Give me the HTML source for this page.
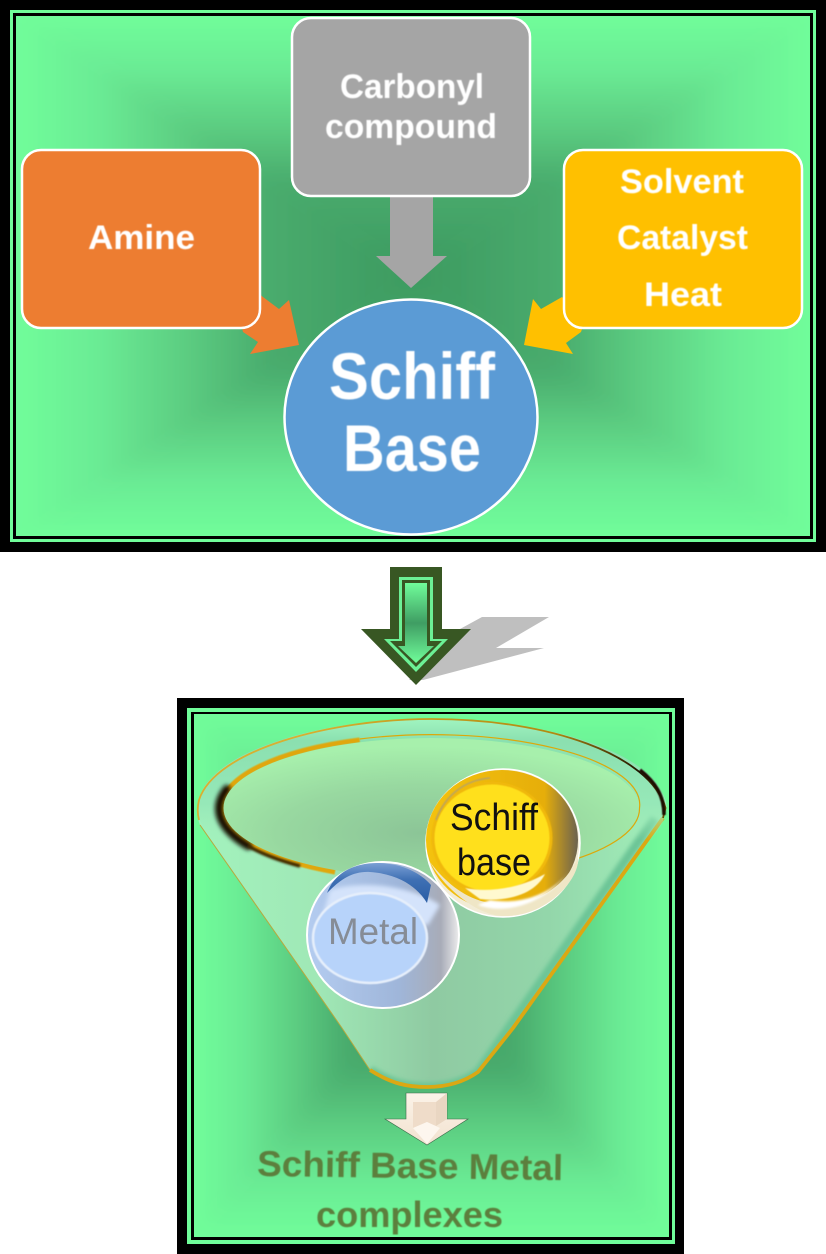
<!DOCTYPE html>
<html><head><meta charset="utf-8">
<style>html,body{margin:0;padding:0;background:#fff}svg{display:block}
text{font-family:"Liberation Sans",sans-serif;text-anchor:start}</style></head>
<body>
<svg xmlns="http://www.w3.org/2000/svg" width="826" height="1254" viewBox="0 0 826 1254">
<defs>
<linearGradient id="t1" gradientUnits="userSpaceOnUse" x1="0" y1="276" x2="0" y2="16"><stop offset="0" stop-color="#3d9a60"/><stop offset=".36" stop-color="#49ab6d"/><stop offset=".56" stop-color="#5bcb80"/><stop offset=".8" stop-color="#6bec95"/><stop offset="1" stop-color="#70fd9a"/></linearGradient>
<linearGradient id="t2" gradientUnits="userSpaceOnUse" x1="0" y1="276" x2="0" y2="536"><stop offset="0" stop-color="#3d9a60"/><stop offset=".36" stop-color="#49ab6d"/><stop offset=".56" stop-color="#5bcb80"/><stop offset=".8" stop-color="#6bec95"/><stop offset="1" stop-color="#70fd9a"/></linearGradient>
<linearGradient id="t3" gradientUnits="userSpaceOnUse" x1="413" y1="0" x2="16" y2="0"><stop offset="0" stop-color="#3d9a60"/><stop offset=".36" stop-color="#49ab6d"/><stop offset=".56" stop-color="#5bcb80"/><stop offset=".8" stop-color="#6bec95"/><stop offset="1" stop-color="#70fd9a"/></linearGradient>
<linearGradient id="t4" gradientUnits="userSpaceOnUse" x1="413" y1="0" x2="810" y2="0"><stop offset="0" stop-color="#3d9a60"/><stop offset=".36" stop-color="#49ab6d"/><stop offset=".56" stop-color="#5bcb80"/><stop offset=".8" stop-color="#6bec95"/><stop offset="1" stop-color="#70fd9a"/></linearGradient>
<linearGradient id="b1" gradientUnits="userSpaceOnUse" x1="0" y1="975" x2="0" y2="714"><stop offset="0" stop-color="#3d9a60"/><stop offset=".36" stop-color="#49ab6d"/><stop offset=".56" stop-color="#5bcb80"/><stop offset=".8" stop-color="#6bec95"/><stop offset="1" stop-color="#70fd9a"/></linearGradient>
<linearGradient id="b2" gradientUnits="userSpaceOnUse" x1="0" y1="975" x2="0" y2="1237"><stop offset="0" stop-color="#3d9a60"/><stop offset=".36" stop-color="#49ab6d"/><stop offset=".56" stop-color="#5bcb80"/><stop offset=".8" stop-color="#6bec95"/><stop offset="1" stop-color="#70fd9a"/></linearGradient>
<linearGradient id="b3" gradientUnits="userSpaceOnUse" x1="431" y1="0" x2="194" y2="0"><stop offset="0" stop-color="#3d9a60"/><stop offset=".36" stop-color="#49ab6d"/><stop offset=".56" stop-color="#5bcb80"/><stop offset=".8" stop-color="#6bec95"/><stop offset="1" stop-color="#70fd9a"/></linearGradient>
<linearGradient id="b4" gradientUnits="userSpaceOnUse" x1="431" y1="0" x2="669" y2="0"><stop offset="0" stop-color="#3d9a60"/><stop offset=".36" stop-color="#49ab6d"/><stop offset=".56" stop-color="#5bcb80"/><stop offset=".8" stop-color="#6bec95"/><stop offset="1" stop-color="#70fd9a"/></linearGradient>
<filter id="bl" filterUnits="userSpaceOnUse" x="-40" y="-40" width="906" height="1334"><feGaussianBlur stdDeviation="9"/></filter>
<filter id="sf" filterUnits="userSpaceOnUse" x="0" y="0" width="826" height="1254"><feGaussianBlur stdDeviation=".5"/></filter>
<filter id="sf1" filterUnits="userSpaceOnUse" x="0" y="0" width="826" height="1254"><feGaussianBlur stdDeviation="1.1"/></filter>
<filter id="sf2" filterUnits="userSpaceOnUse" x="0" y="0" width="826" height="1254"><feGaussianBlur stdDeviation="2"/></filter>
<clipPath id="c1"><rect x="16" y="16" width="794" height="520"/></clipPath>
<clipPath id="c2"><rect x="194" y="714" width="475" height="523"/></clipPath>
<clipPath id="coneclip"><path d="M200,825 L342,1028 L370,1070 C392,1084 408,1087 427,1087 C448,1087 464,1082 478,1072 L513,1028 L663,818 C668,810 668,800 660,790 L203,790 C196,800 196,815 200,825Z"/></clipPath>
<clipPath id="metalclip"><ellipse cx="383" cy="935" rx="75" ry="72"/></clipPath>
<linearGradient id="mid" x1="0" y1="0" x2="0" y2="1"><stop offset="0" stop-color="#70fd9a"/><stop offset=".5" stop-color="#3f9d63"/><stop offset="1" stop-color="#70fd9a"/></linearGradient>
<linearGradient id="cone" gradientUnits="userSpaceOnUse" x1="200" y1="0" x2="665" y2="0"><stop offset="0" stop-color="#a2f2bd"/><stop offset=".25" stop-color="#a0e8b6"/><stop offset=".5" stop-color="#8fcaa2"/><stop offset=".75" stop-color="#93d6aa"/><stop offset="1" stop-color="#a2f0ba"/></linearGradient>
<radialGradient id="inner" cx=".47" cy=".68" r=".62"><stop offset="0" stop-color="#8cc597"/><stop offset=".55" stop-color="#98d8a0"/><stop offset="1" stop-color="#a7f0ac"/></radialGradient>
<linearGradient id="rim" gradientUnits="userSpaceOnUse" x1="0" y1="719" x2="0" y2="840"><stop offset="0" stop-color="#a0f4c0"/><stop offset=".18" stop-color="#8be0b0"/><stop offset=".7" stop-color="#96e8b8"/><stop offset="1" stop-color="#a0ecba" stop-opacity="0"/></linearGradient>
<linearGradient id="goldrim" gradientUnits="userSpaceOnUse" x1="300" y1="0" x2="665" y2="0"><stop offset="0" stop-color="#d8b030"/><stop offset=".7" stop-color="#b08a10"/><stop offset=".93" stop-color="#1f1500"/><stop offset="1" stop-color="#6d5200"/></linearGradient>
<linearGradient id="sy" x1="0" y1="0" x2="1" y2="0"><stop offset="0" stop-color="#f4c20e"/><stop offset=".78" stop-color="#e6ae0a"/><stop offset="1" stop-color="#6b6250"/></linearGradient>
<linearGradient id="mb" x1="0" y1="0" x2="1" y2="0"><stop offset="0" stop-color="#b4ccf0"/><stop offset=".6" stop-color="#9fb6da"/><stop offset=".88" stop-color="#a8acb8"/><stop offset="1" stop-color="#ececec"/></linearGradient>
<linearGradient id="mtop" gradientUnits="userSpaceOnUse" x1="380" y1="863" x2="380" y2="900"><stop offset="0" stop-color="#7a9fd4"/><stop offset=".45" stop-color="#3f70b4"/><stop offset="1" stop-color="#2c5fa6"/></linearGradient>
<linearGradient id="wa" x1="0" y1="0" x2="0" y2="1"><stop offset="0" stop-color="#fbf3e8"/><stop offset="1" stop-color="#f2e2d0"/></linearGradient>
</defs>

<!-- top frame -->
<rect x="0" y="0" width="826" height="552" fill="#000"/>
<rect x="10" y="10" width="806" height="532" fill="#70fd9a"/>
<rect x="13" y="13" width="800" height="526" fill="#000"/>
<rect x="16" y="16" width="794" height="520" fill="#70fd9a"/>
<g clip-path="url(#c1)"><g filter="url(#bl)">
<polygon points="413,276 -10,-10 836,-10" fill="url(#t1)"/>
<polygon points="413,276 -10,562 836,562" fill="url(#t2)"/>
<polygon points="413,276 -10,-10 -10,562" fill="url(#t3)"/>
<polygon points="413,276 836,-10 836,562" fill="url(#t4)"/>
</g></g>

<!-- arrows top -->
<polygon points="390,190 433,190 433,256 447,256 411,288 376,256 390,256" fill="#a5a5a5"/>
<polygon points="255,290 263,297 279,309 289,300 299,345 250,354 258,342 243,332 240,320" fill="#ed7d31"/>
<polygon points="524,345 533,299 541,309 562,297 585,320 581,332 566,343 573,354" fill="#ffc000"/>

<rect x="22" y="150" width="238" height="178" rx="19" fill="#ed7d31" stroke="#fff" stroke-width="2.5"/>
<rect x="292" y="18" width="238" height="178" rx="19" fill="#a5a5a5" stroke="#fff" stroke-width="2.5"/>
<rect x="564" y="150" width="238" height="178" rx="19" fill="#ffc000" stroke="#fff" stroke-width="2.5"/>
<ellipse cx="411" cy="417" rx="126.500" ry="117.500" fill="#5b9bd5" stroke="#fff" stroke-width="2.500"/>

<g fill="#fff" font-weight="bold" filter="url(#sf)">
<text x="340" y="98" font-size="34" textLength="144" lengthAdjust="spacingAndGlyphs">Carbonyl</text>
<text x="325" y="138" font-size="34" textLength="172" lengthAdjust="spacingAndGlyphs">compound</text>
<text x="88" y="249" font-size="34" textLength="107" lengthAdjust="spacingAndGlyphs">Amine</text>
<text x="620" y="193" font-size="34" textLength="124" lengthAdjust="spacingAndGlyphs">Solvent</text>
<text x="617" y="249" font-size="34" textLength="131" lengthAdjust="spacingAndGlyphs">Catalyst</text>
<text x="644" y="306" font-size="34" textLength="78" lengthAdjust="spacingAndGlyphs">Heat</text>
<text x="329" y="399" font-size="66" textLength="166" lengthAdjust="spacingAndGlyphs">Schiff</text>
<text x="343" y="471" font-size="66" textLength="138" lengthAdjust="spacingAndGlyphs">Base</text>
</g>

<!-- middle arrow -->
<polygon points="460,629 482,617 549,617 496,648 544,648 423,680 409,680" fill="#bfbfbf"/>
<polygon points="390,567 442,567 442,629 471,629 416,685 361,629 390,629" fill="#385723"/>
<polygon points="399,577 433,577 433,639 448,639 416,672 384,639 399,639" fill="#6cf095"/>
<polygon points="402,580 430,580 430,641 442,641 416,667 390,641 402,641" fill="#385723"/>
<polygon points="405,583 427,583 427,646 434,646 416,663 398,646 405,646" fill="url(#mid)"/>

<!-- bottom frame -->
<rect x="177" y="698" width="507" height="556" fill="#000"/>
<rect x="187" y="708" width="488" height="536" fill="#70fd9a"/>
<rect x="191" y="712" width="481" height="528" fill="#000"/>
<rect x="194" y="714" width="475" height="523" fill="#70fd9a"/>
<g clip-path="url(#c2)"><g filter="url(#bl)">
<polygon points="431,975 170,690 692,690" fill="url(#b1)"/>
<polygon points="431,975 170,1260 692,1260" fill="url(#b2)"/>
<polygon points="431,975 170,690 170,1260" fill="url(#b3)"/>
<polygon points="431,975 692,690 692,1260" fill="url(#b4)"/>
</g></g>

<!-- funnel body -->
<path d="M200,825 L342,1028 L370,1070 C392,1084 408,1087 427,1087 C448,1087 464,1082 478,1072 L513,1028 L663,818 C668,810 668,800 660,790 L203,790 C196,800 196,815 200,825Z" fill="url(#cone)"/>
<g clip-path="url(#coneclip)">
<path d="M370,1070 C392,1084 408,1087 427,1087 C448,1087 464,1082 478,1072 L655,818" fill="none" stroke="#6cc596" stroke-width="9" filter="url(#sf2)"/>
</g>
<path d="M200,825 L342,1028 L370,1070" fill="none" stroke="#b9a83c" stroke-width="1"/>
<path d="M370,1070 C392,1084 408,1087 427,1087 C448,1087 464,1082 478,1072 L513,1028 L663,818" fill="none" stroke="#dba813" stroke-width="3.800"/>
<!-- rim ring -->
<path fill-rule="evenodd" d="M197.500,808 A234,89 0 1 1 665.500,808 A234,89 0 1 1 197.500,808Z M223.500,808 A208,70 0 1 0 639.500,808 A208,70 0 1 0 223.500,808Z" fill="url(#rim)"/>
<path d="M199,820 C197,812 197.500,806 199,800 C215,750 330,719 431.500,719 C550,719 650,755 665.500,808 L663,818" fill="none" stroke="url(#goldrim)" stroke-width="1.800"/>
<path d="M640,770 C655,782 664,795 664,815" fill="none" stroke="#1a1100" stroke-width="3.500" filter="url(#sf)"/>
<!-- inner band -->
<path d="M359.700,740 A210,72 0 0 0 221.500,808 A210,72 0 0 0 335,872" fill="none" stroke="#e0a70a" stroke-width="5" filter="url(#sf)"/>
<path d="M226.700,789 A212,74 0 0 0 248,846" fill="none" stroke="#140d00" stroke-width="8" stroke-linecap="round" filter="url(#sf2)"/>
<path d="M248,846 A210,72 0 0 0 300,866" fill="none" stroke="#3a2700" stroke-width="3.500" filter="url(#sf1)"/>
<ellipse cx="431.500" cy="808" rx="208" ry="70" fill="url(#inner)"/>
<path d="M359.700,739 A208,70 0 0 1 639.500,808 A208,70 0 0 1 566,862" fill="none" stroke="#dca80a" stroke-width="1.200"/>

<!-- schiff ball -->
<ellipse cx="503" cy="843" rx="77" ry="74" fill="#f2ecd6" stroke="#fff" stroke-width="1.500"/>
<ellipse cx="502" cy="840" rx="76" ry="70" fill="url(#sy)"/>
<path d="M430,862 C445,890 480,917 505,916 C545,917 580,880 578,858 C560,895 525,908 490,903 C465,899 445,882 430,862Z" fill="#efe6c6"/>
<path d="M478,905 C505,915 545,905 570,870 C552,895 520,905 490,900Z" fill="#fff" filter="url(#sf1)"/>
<ellipse cx="492" cy="838" rx="59" ry="55" fill="#ffe01a" stroke="#f0b808" stroke-width="3" filter="url(#sf)"/>
<path d="M436,820 C445,795 465,780 490,778" fill="none" stroke="#b0a070" stroke-width="1.800" opacity=".75" filter="url(#sf)"/>
<path d="M465,888 C490,893 520,888 545,874 C535,895 505,902 480,899Z" fill="#fff9cf" filter="url(#sf)"/>
<text x="450" y="830" font-size="38" fill="#111" textLength="88" lengthAdjust="spacingAndGlyphs">Schiff</text>
<text x="457" y="875" font-size="38" fill="#111" textLength="74" lengthAdjust="spacingAndGlyphs">base</text>

<!-- metal ball -->
<ellipse cx="383" cy="935" rx="76" ry="73" fill="url(#mb)" stroke="#fff" stroke-width="2"/>
<g clip-path="url(#metalclip)">
<path d="M330,890 C360,880 410,885 440,905 L428,925 L320,925Z" fill="#d4e3fb" filter="url(#sf2)"/>
<ellipse cx="370" cy="938" rx="57" ry="45" fill="#b7d3fa" stroke="#e6effb" stroke-width="2.500" filter="url(#sf)"/>
</g>
<path d="M327,893 C335,872 355,863 377,863 C400,863 420,872 431,885 L427,903 C418,888 400,874 370,872 C352,871 340,880 327,893Z" fill="url(#mtop)"/>
<text x="328" y="944" font-size="37" fill="#868c96" textLength="90" lengthAdjust="spacingAndGlyphs">Metal</text>

<!-- white arrow -->
<polygon points="406,1093 447,1093 447,1119 468,1119 427,1145 385,1119 406,1119" fill="url(#wa)" stroke="#3c6a4a" stroke-width=".6"/>
<polygon points="413,1102 436,1102 436,1126 427,1122 413,1128" fill="#efdcc9"/>
<polygon points="436,1102 447,1093 447,1119 436,1126" fill="#e9d6c2"/>
<polygon points="413,1128 427,1122 440,1128 427,1144" fill="#fdf6ee"/>

<g fill="#5b7f3c" font-weight="bold" filter="url(#sf)">
<text x="257" y="1178" font-size="36" textLength="306" lengthAdjust="spacingAndGlyphs" transform="rotate(.8 410 1178)">Schiff Base Metal</text>
<text x="316" y="1227" font-size="36" textLength="187" lengthAdjust="spacingAndGlyphs">complexes</text>
</g>
</svg>
</body></html>
